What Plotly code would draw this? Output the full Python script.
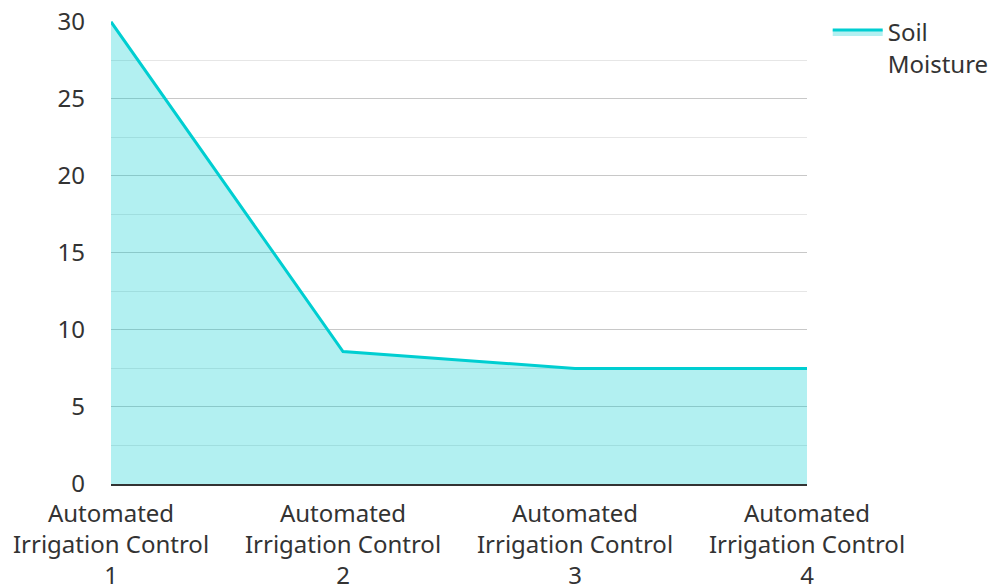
import plotly.graph_objects as go

categories = ["Automated<br>Irrigation Control<br>1", "Automated<br>Irrigation Control<br>2",
              "Automated<br>Irrigation Control<br>3", "Automated<br>Irrigation Control<br>4"]
soil_moisture = [30, 8.6, 7.5, 7.5]
series_name = "Soil<br>Moisture"

fig = go.Figure()
fig.add_trace(go.Scatter(
    x=categories, y=soil_moisture, name=series_name, mode="lines",
    line=dict(color="#00CED1", width=3),
    fill="tozeroy", fillcolor="rgba(0,206,209,0.3)",
))

fig.update_layout(
    width=996, height=587,
    margin=dict(l=103, r=197, t=13, b=111),
    paper_bgcolor="white", plot_bgcolor="white",
    font=dict(family="Noto Sans", size=24, color="#333333"),
    showlegend=True,
    legend=dict(xref="container", yref="container", x=0.823, y=0.9966,
                xanchor="left", yanchor="top", valign="top",
                font=dict(size=24, color="#333333"), itemwidth=50,
                bgcolor="rgba(0,0,0,0)"),
    xaxis=dict(range=[0, 3], showgrid=False, showline=True, linecolor="#333333",
               linewidth=2, ticks="", tickfont=dict(size=24, color="#333333"),
               zeroline=False, automargin=False, ticklabelstandoff=7,
               ticklabeloverflow="allow"),
    yaxis=dict(range=[0, 30.05], tickvals=[0, 5, 10, 15, 20, 25, 30], showgrid=True,
               gridcolor="#C8C8C8", gridwidth=1, zeroline=False, showline=False,
               ticks="", ticklen=0, tickfont=dict(size=24, color="#333333"),
               automargin=False, ticklabelstandoff=25, ticklabeloverflow="allow",
               minor=dict(tickvals=[2.5, 7.5, 12.5, 17.5, 22.5, 27.5], showgrid=True,
                          gridcolor="#E6E6E6", gridwidth=1)),
)

fig.write_html("out.html")
